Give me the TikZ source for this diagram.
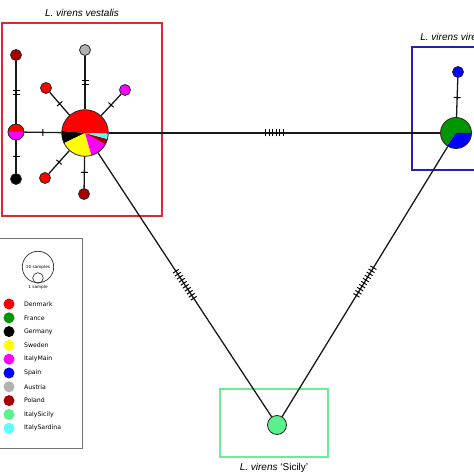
\documentclass[tikz,border=0pt]{standalone}
\usepackage{fontspec}
\setmainfont{Liberation Sans}
\newfontfamily\keyfont{DejaVu Sans}
\usetikzlibrary{positioning,fit,decorations.markings}

\pgfdeclarelayer{background}
\pgfdeclarelayer{foreground}
\pgfsetlayers{background,main,foreground}

\definecolor{cDenmark}{RGB}{255,0,0}
\definecolor{cFrance}{RGB}{0,150,0}
\definecolor{cGermany}{RGB}{0,0,0}
\definecolor{cSweden}{RGB}{255,255,0}
\definecolor{cItalyMain}{RGB}{255,0,255}
\definecolor{cSpain}{RGB}{0,0,255}
\definecolor{cAustria}{RGB}{178,178,178}
\definecolor{cPoland}{RGB}{168,0,0}
\definecolor{cItalySicily}{RGB}{90,240,140}
\definecolor{cItalySardina}{RGB}{90,255,255}
\definecolor{boxred}{RGB}{215,45,50}
\definecolor{boxblue}{RGB}{35,35,175}
\definecolor{boxgreen}{RGB}{110,235,150}

\begin{document}
\begin{tikzpicture}[x=1pt, y=1pt,
    hap/.style={circle, draw=black!85, line width=0.8pt, inner sep=0pt, minimum size=#1},
    hap/.default=11pt,
    pie/.style={path picture={
        \foreach \a/\b/\c in {#1}
            \fill[\c] (path picture bounding box.center) -- ++(\a:40pt)
                arc[start angle=\a, end angle=\b, radius=40pt] -- cycle;}},
    link/.style={draw=black!90, line width=1.3pt},
    %link/.style={draw=black!85, thick, shorten >=1pt},
    ticks/.style={postaction={decorate, decoration={markings,
        mark=at position 0.5 with {
            \foreach \k in {1,...,#1}{
                \pgfmathsetmacro\tx{(\k-(#1+1)/2)*3.6}
                \draw[black, line width=1pt] (\tx pt,-3.5pt) -- (\tx pt,3.5pt);
            }}}}},
    grpbox/.style={rectangle, line width=1.7pt, inner sep=0pt},
    grplabel/.style={font=\fontsize{10}{11}\selectfont, label distance=2pt},
    keybox/.style={rectangle, draw=black!55, line width=0.9pt, inner sep=0pt},
    keytext/.style={font=\keyfont\fontsize{6.2}{7}\selectfont, inner sep=0pt}
    ]

\useasboundingbox (0,0) rectangle (474,474);

% vestalis
\node[hap=46.6pt, pie={-2/175/cDenmark, 175/206/cGermany, 206/286/cSweden,
    286/331/cItalyMain, 331/345/cPoland, 345/358/cItalySardina}] (vesHub) at (85,341) {};
\node[hap=16pt, pie={0/180/cDenmark, 180/360/cItalyMain}] (vesWest) at (16,342) {};
\node[hap, fill=cPoland]   (vesWestN) at (16,419) {};
\node[hap, fill=cGermany]  (vesWestS) at (16,295) {};
\node[hap, fill=cAustria]  (vesN)     at (85,424) {};
\node[hap, fill=cDenmark]  (vesNW)    at (46,386) {};
\node[hap, fill=cItalyMain] (vesNE)   at (125,384) {};
\node[hap, fill=cDenmark]  (vesSW)    at (45,296) {};
\node[hap, fill=cPoland]   (vesS)     at (84,280) {};

% virens
\node[hap=31pt, pie={0/235/cFrance, 235/360/cSpain}] (virHub) at (456,341) {};
\node[hap, fill=cSpain] (virN) at (458,402) {};

% Sicily
\node[hap=19pt, fill=cItalySicily] (sicHub) at (277,49) {};

\draw[link, ticks=2] (vesWestN) -- (vesWest);
\draw[link, ticks=1] (vesWest) -- (vesWestS);
\draw[link, ticks=1] (vesWest) -- (vesHub);
\draw[link, ticks=2] (vesN) -- (vesHub);
\draw[link, ticks=1] (vesNW) -- (vesHub);
\draw[link, ticks=1] (vesNE) -- (vesHub);
\draw[link, ticks=1] (vesSW) -- (vesHub);
\draw[link, ticks=1] (vesS) -- (vesHub);
\draw[link, ticks=1] (virN) -- (virHub);
\draw[link, ticks=6] (vesHub) -- (virHub);
\draw[link, ticks=10] (vesHub) -- (sicHub);
\draw[link, ticks=10] (virHub) -- (sicHub);

% legend
\node[keybox, minimum width=83pt, minimum height=210pt] (legend) at (40.5,131) {};
\node[circle, draw=black!80, line width=0.7pt, inner sep=0pt, minimum size=31.4pt] (scaleTen) at (38,207) {};
\node[keytext, font=\keyfont\fontsize{4.2}{4.5}\selectfont] at (scaleTen) {10 samples};
\node[circle, draw=black!80, line width=0.7pt, inner sep=0pt, minimum size=10.6pt] (scaleOne) at (38,196) {};
\node[keytext, font=\keyfont\fontsize{4.2}{4.5}\selectfont, below=1.5pt of scaleOne] {1 sample};
\foreach \cty [count=\i from 0] in {Denmark,France,Germany,Sweden,ItalyMain,Spain,Austria,Poland,ItalySicily,ItalySardina}{
    \node[hap=11pt, draw=none, fill=c\cty] (key\cty) at (9,{170-13.8*\i}) {};
    \node[keytext, right=9pt of key\cty] {\cty};
}

\begin{pgfonlayer}{background}
  \node[grpbox, draw=boxred, minimum width=160pt, minimum height=193pt,
      label={[grplabel]above:\textit{L. virens vestalis}}] (vestalis) at (82,354.5) {};
  \node[grpbox, draw=boxblue, minimum width=84pt, minimum height=123pt,
      label={[grplabel]above:\textit{L. virens virens}}] (virens) at (454,365.5) {};
  \node[grpbox, draw=boxgreen, minimum width=108pt, minimum height=68pt,
      label={[grplabel]below:\textit{L. virens} ‘Sicily’}] (sicily) at (274,51) {};
\end{pgfonlayer}

\end{tikzpicture}
\end{document}
